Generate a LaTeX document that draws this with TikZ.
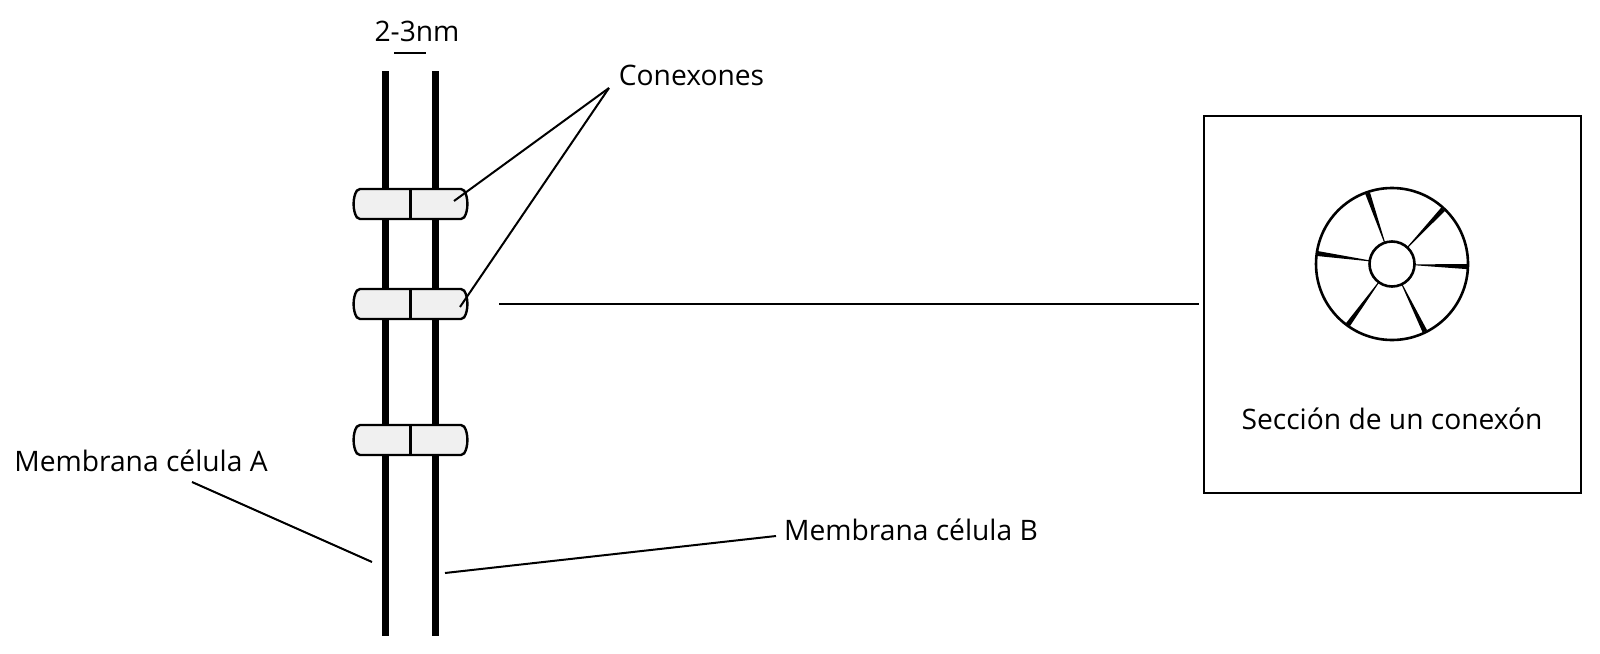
\documentclass[tikz,border=0pt]{standalone}
\usepackage{fontspec}
\setmainfont{Open Sans}
\tikzset{
  membrane/.style={line width=3.75pt},
  connexon/.style={draw, line width=1.2pt, fill=black!6, rounded corners=1pt},
  label/.style={font=\fontsize{14.1}{16}\selectfont, inner sep=0pt},
  leader/.style={line width=1pt}
}
\begin{document}
\begin{tikzpicture}[x=.5pt, y=-.5pt]
  \useasboundingbox (0,0) rectangle (1600,653);
  % membranes
  \coordinate (a1) at (385.7,71);
  \coordinate (a2) at (385.7,636);
  \coordinate (b1) at (435.5,71);
  \coordinate (b2) at (435.5,636);
  \draw[membrane] (a1) -- (a2);
  \draw[membrane] (b1) -- (b2);
  % connexons
  \foreach \yc in {204,304,440} {
    \draw[connexon] (410,\yc-15) -- (463,\yc-15)
      .. controls (468.5,\yc-7) and (468.5,\yc+7) .. (463,\yc+15)
      -- (358,\yc+15)
      .. controls (352.5,\yc+7) and (352.5,\yc-7) .. (358,\yc-15) -- cycle;
    \draw[line width=1.5pt] (410,\yc-15) -- (410,\yc+15);
  }
  % labels
  \node (width) [label] at (417,31) {2-3nm};
  \node (conexones) [label] at (691.5,75) {Conexones};
  \node (cellA) [label] at (141,461) {Membrana célula A};
  \node (cellB) [label] at (911,530) {Membrana célula B};
  % leaders
  \coordinate (barL) at (394,53);
  \coordinate (barR) at (425.5,53);
  \coordinate (conTip) at (609,88);
  \coordinate (conA) at (454,201);
  \coordinate (conB) at (460,307);
  \coordinate (cellAtip) at (192,482);
  \coordinate (cellAend) at (372,562);
  \coordinate (cellBtip) at (776,536);
  \coordinate (cellBend) at (445,573);
  \coordinate (zoomL) at (499,304);
  \coordinate (zoomR) at (1199,304);
  \draw[leader] (barL) -- (barR);
  \draw[leader] (conTip) -- (conA);
  \draw[leader] (conTip) -- (conB);
  \draw[leader] (cellAtip) -- (cellAend);
  \draw[leader] (cellBtip) -- (cellBend);
  \draw[leader] (zoomL) -- (zoomR);
  % section box
  \node (box) [draw, line width=1pt, minimum size=188.5pt, inner sep=0pt] at (1392.5,304) {};
  \node (section) [label] at (1392,419) {Sección de un conexón};
  \node (rim) [circle, draw, line width=1.3pt, minimum size=76pt, inner sep=0pt] at (1392,264) {};
  \node (hub) [circle, draw, line width=1.3pt, minimum size=22.5pt, inner sep=0pt] at (1392,264) {};
  \begin{scope}[shift={(hub.center)}]
    \foreach \ang in {-109,-47,2,64,126,-172} {
      \fill (\ang-1.2:23) -- (\ang+1.2:23) -- (\ang+1.9:75) -- (\ang-1.9:75) -- cycle;
    }
  \end{scope}
\end{tikzpicture}
\end{document}
